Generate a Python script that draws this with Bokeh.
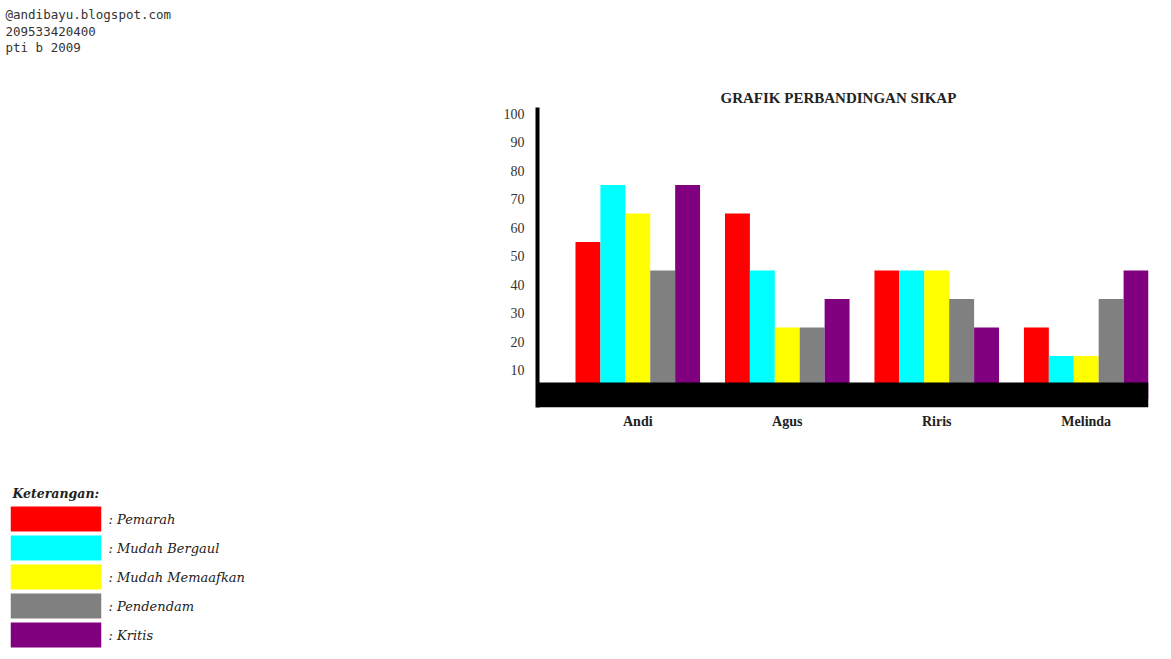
from bokeh.plotting import figure
from bokeh.models import Range1d, FixedTicker, Label, BoxAnnotation, FactorRange, ColumnDataSource
from bokeh.layouts import row, column
from bokeh.embed import file_html
from bokeh.resources import INLINE

# ---------------- data ----------------
header_lines = ["@andibayu.blogspot.com", "209533420400", "pti b 2009"]
chart_title = "GRAFIK PERBANDINGAN SIKAP"
names = ["Andi", "Agus", "Riris", "Melinda"]
attributes = ["Pemarah", "Mudah Bergaul", "Mudah Memaafkan", "Pendendam", "Kritis"]
colors = ["#FF0000", "#00FFFF", "#FFFF00", "#808080", "#800080"]
pemarah = [55, 65, 45, 25]
mudah_bergaul = [75, 45, 45, 15]
mudah_memaafkan = [65, 25, 45, 15]
pendendam = [45, 25, 35, 35]
kritis = [75, 35, 25, 45]
y_ticks = [10, 20, 30, 40, 50, 60, 70, 80, 90, 100]
legend_title = "Keterangan:"

series = [pemarah, mudah_bergaul, mudah_memaafkan, pendendam, kritis]

SERIF = "Liberation Serif"
HDR_H = 60
CH_H = 418

# ---------------- header text (top-left) ----------------
hdr = figure(width=400, height=HDR_H, output_backend="svg", toolbar_location=None,
             x_range=Range1d(0, 400), y_range=Range1d(0, HDR_H),
             x_axis_location=None, y_axis_location=None,
             min_border=0, outline_line_color=None)
hdr.grid.visible = False
for i, line in enumerate(header_lines):
    hdr.add_layout(Label(x=5, y=HDR_H - 14 - 16.5 * i,
                         text=line, text_font="DejaVu Sans Mono", text_font_size="12.5px",
                         text_color="#333333", text_baseline="middle"))

# ---------------- chart ----------------
n_attr = len(attributes)
step = n_attr + 1
p = figure(width=1168, height=CH_H, output_backend="svg", toolbar_location=None,
           x_range=Range1d(-1.525, step * (len(names) - 1) + n_attr),
           y_range=Range1d(-3.07, 102.2),
           min_border_left=537, min_border_right=20, min_border_top=47, min_border_bottom=71,
           outline_line_color=None, title=chart_title)
p.grid.visible = False
p.title.align = "left"
p.title.offset = 183
p.title.text_font = SERIF
p.title.text_font_style = "bold"
p.title.text_font_size = "15px"
p.title.text_color = "#222222"
p.title.standoff = 3

for j, (vals, col) in enumerate(zip(series, colors)):
    src = ColumnDataSource(dict(x=[i * step + j + 0.5 for i in range(len(names))], top=vals))
    p.vbar(x="x", top="top", bottom=0, width=1.0, source=src,
           fill_color=col, line_color=None)

p.add_layout(BoxAnnotation(top=5.7, fill_color="black", fill_alpha=1.0, line_color=None))

centers = [i * step + (n_attr / 2) for i in range(len(names))]
p.xaxis.ticker = FixedTicker(ticks=centers)
p.xaxis.major_label_overrides = {c: n for c, n in zip(centers, names)}
p.xaxis.axis_line_color = None
p.xaxis.major_tick_line_color = None
p.xaxis.minor_tick_line_color = None
p.xaxis.major_tick_out = 0
p.xaxis.major_label_standoff = 6
p.xaxis.major_label_text_font = SERIF
p.xaxis.major_label_text_font_style = "bold"
p.xaxis.major_label_text_font_size = "14px"
p.xaxis.major_label_text_color = "#222222"

p.yaxis.ticker = FixedTicker(ticks=y_ticks)
p.yaxis.axis_line_width = 4
p.yaxis.axis_line_color = "black"
p.yaxis.major_tick_line_color = None
p.yaxis.minor_tick_line_color = None
p.yaxis.major_label_standoff = 7
p.yaxis.major_label_text_font = SERIF
p.yaxis.major_label_text_font_size = "14px"
p.yaxis.major_label_text_color = "#333333"

# ---------------- legend (bottom-left) ----------------
legend_labels = [": " + a for a in attributes]
lg = figure(width=300, height=180, output_backend="svg", toolbar_location=None,
            x_range=Range1d(0, 1), y_range=FactorRange(factors=list(reversed(legend_labels))),
            x_axis_location=None, y_axis_location="right",
            min_border_left=10, min_border_right=199, min_border_top=26, min_border_bottom=9,
            outline_line_color=None, title=legend_title)
lg.grid.visible = False
lg.title.align = "left"
lg.title.offset = 2
lg.title.text_font = "DejaVu Serif"
lg.title.text_font_style = "bold italic"
lg.title.text_font_size = "12.5px"
lg.title.text_color = "#222222"
lg.title.standoff = 8
lg.hbar(y=legend_labels, left=0, right=1, height=25 / 29, fill_color=colors, line_color=None)
lg.yaxis.axis_line_color = None
lg.yaxis.major_tick_line_color = None
lg.yaxis.minor_tick_line_color = None
lg.yaxis.major_tick_out = 0
lg.yaxis.major_label_standoff = 7
lg.yaxis.major_label_text_font = "DejaVu Serif"
lg.yaxis.major_label_text_font_style = "italic"
lg.yaxis.major_label_text_font_size = "13px"
lg.yaxis.major_label_text_color = "#222222"

layout = column(row(hdr), row(p), row(lg))
open("out.html", "w").write(file_html(layout, INLINE))
